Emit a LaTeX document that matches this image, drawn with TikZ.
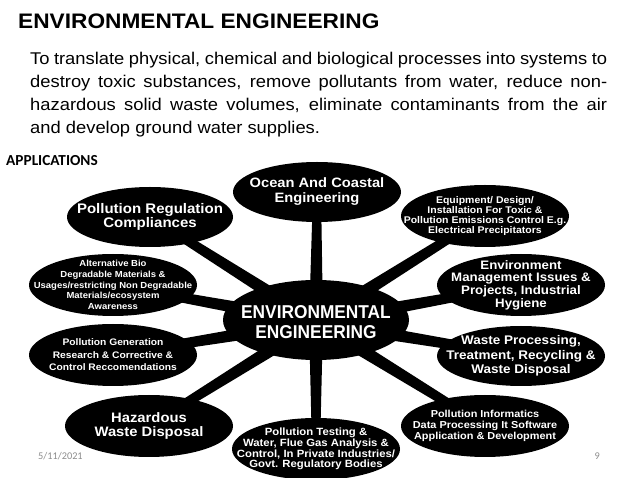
\documentclass[tikz,border=0pt]{standalone}
\usepackage{fontspec}
\setmainfont[FakeStretch=1.08]{Liberation Sans}
\newfontfamily\centrefont[FakeStretch=0.93]{Liberation Sans}
\newfontfamily\calib{Carlito}
\usetikzlibrary{calc,backgrounds}
\definecolor{footgray}{HTML}{8C8C8C}
\tikzset{
  bubtext/.style={text=white, inner sep=0pt, align=center},
  foot/.style={font=\calib\fontsize{10.3}{12}\selectfont, text=footgray, inner sep=0pt}
}
% name, centre, x radius, y radius, font size, line skip, text
\newcommand\bubble[7]{%
  \fill #2 ellipse [x radius=#3pt, y radius=#4pt];
  \node[bubtext, font=\bfseries\fontsize{#5}{#6}\selectfont] (#1) at #2 {#7};}
\newcommand\spoke[2]{%
  \fill ($(#1)!7pt!90:(#2)$) -- ($(#2)!4pt!-90:(#1)$) -- ($(#2)!4pt!90:(#1)$) -- ($(#1)!7pt!-90:(#2)$) -- cycle;}
\begin{document}
\begin{tikzpicture}[x=1pt,y=-1pt]
\useasboundingbox (0,0) rectangle (638,478);
\node[anchor=west, inner sep=0pt, font=\bfseries\fontsize{21}{24}\selectfont] (title) at (18,21) {ENVIRONMENTAL ENGINEERING};
\node[anchor=north west, inner sep=0pt, text width=577pt, align=justify, font=\fontsize{17}{23}\selectfont] (para) at (30,52)
 {To translate physical, chemical and biological processes into systems to\linebreak destroy toxic substances, remove pollutants from water, reduce non-\linebreak hazardous solid waste volumes, eliminate contaminants from the air\linebreak and develop ground water supplies.};
\node[anchor=west, inner sep=0pt, font=\calib\bfseries\fontsize{15.3}{17}\selectfont] (app) at (6,161) {APPLICATIONS};

\fill (316,320) ellipse [x radius=93pt, y radius=40pt];
\node[bubtext, font=\centrefont\bfseries\fontsize{18.6}{20}\selectfont] (c) at (316,322) {ENVIRONMENTAL\\ENGINEERING};
\bubble{ocean}{(317,192)}{84}{30}{13.6}{15}{Ocean And Coastal\\Engineering}
\bubble{reg}{(150,217)}{83}{30}{13.9}{14.5}{Pollution Regulation\\Compliances}
\bubble{equip}{(485,216)}{84}{31}{9.7}{10}{Equipment/ Design/\\Installation For Toxic \&\\Pollution Emissions Control E.g.\\Electrical Precipitators}
\bubble{alt}{(113,285)}{84}{31}{8.8}{10.7}{Alternative Bio\\Degradable Materials \&\\Usages/restricting Non Degradable\\Materials/ecosystem\\Awareness}
\bubble{envm}{(521,285)}{84}{31}{12.3}{12.7}{Environment\\Management Issues \&\\Projects, Industrial\\Hygiene}
\bubble{gen}{(113,355)}{84}{31}{9.5}{12.5}{Pollution Generation\\Research \& Corrective \&\\Control Reccomendations}
\bubble{waste}{(521,356)}{84}{30}{12.5}{14.3}{Waste Processing,\\Treatment, Recycling \&\\Waste Disposal}
\bubble{haz}{(149,426)}{84}{31}{13.7}{14.5}{Hazardous\\Waste Disposal}
\bubble{test}{(316,449)}{84}{31}{10.5}{10.7}{Pollution Testing \&\\Water, Flue Gas Analysis \&\\Control, In Private Industries/\\Govt. Regulatory Bodies}
\bubble{info}{(485,426)}{84}{31}{10.1}{11}{Pollution Informatics\\Data Processing It Software\\Application \& Development}

\begin{pgfonlayer}{background}
\foreach \t in {ocean,reg,equip,alt,envm,gen,waste,haz,test,info} {\spoke{c}{\t}}
\end{pgfonlayer}

\node[foot, anchor=west] (date) at (38,456) {5/11/2021};
\node[foot, anchor=east] (page) at (600,456) {9};
\end{tikzpicture}
\end{document}
